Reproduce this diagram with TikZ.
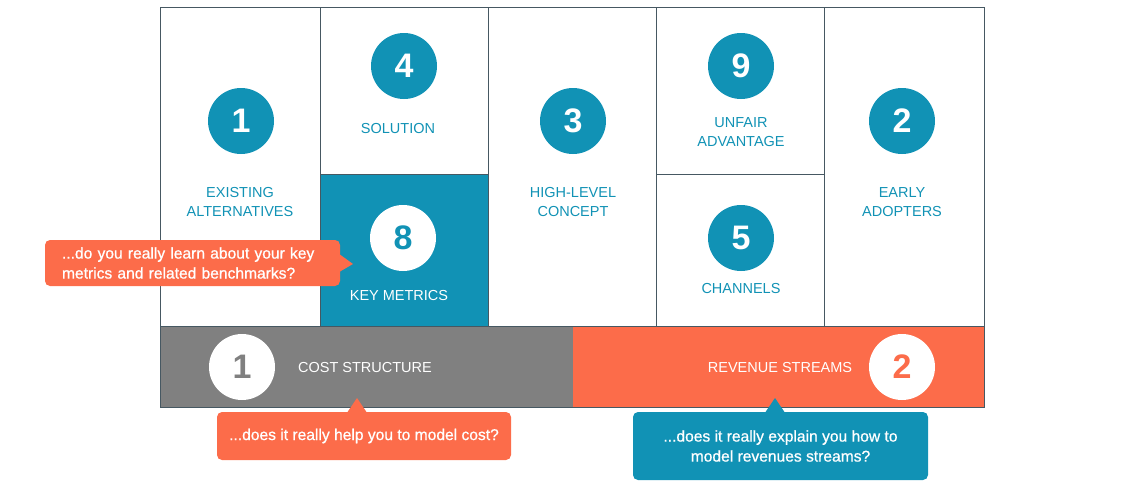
\documentclass[tikz,border=0pt]{standalone}
\usepackage{fontspec}
\setmainfont{Liberation Sans}
\newfontfamily\calloutfont[FakeBold=0.8]{Liberation Sans}
\usetikzlibrary{positioning,calc}

\definecolor{leanblue}{RGB}{17,146,181}
\definecolor{leanorange}{RGB}{252,108,74}
\definecolor{leangray}{RGB}{128,128,128}
\definecolor{gridline}{RGB}{70,88,98}

\tikzset{
  grid/.style={draw=gridline, line width=0.8pt},
  num/.style={circle, fill=leanblue, text=white, minimum size=66pt, inner sep=0pt,
    font=\fontsize{34}{34}\selectfont\bfseries},
  numinv/.style={num, fill=white, text=leanblue},
  lbl/.style={text=leanblue, align=center, inner sep=0pt, font=\fontsize{14.5}{19}\selectfont},
  barlbl/.style={text=white, inner sep=0pt, font=\fontsize{14.5}{19}\selectfont},
  bubble/.style={rounded corners=5pt, text=white, inner sep=0pt,
    font=\calloutfont\fontsize{15.6}{20}\selectfont},
}

\begin{document}
\begin{tikzpicture}[x=1pt,y=-1pt]
\useasboundingbox (0,0) rectangle (1130,493);

% Filled cells
\fill[leanblue] (320,174) rectangle (488,326);
\fill[leangray] (160,326) rectangle (573,407);
\fill[leanorange] (573,326) rectangle (984,407);

% Grid
\draw[grid] (160,7) rectangle (984,407);
\draw[grid] (320,7) -- (320,326);
\draw[grid] (488,7) -- (488,326);
\draw[grid] (656,7) -- (656,326);
\draw[grid] (824,7) -- (824,326);
\draw[grid] (320,174) -- (488,174);
\draw[grid] (656,174) -- (824,174);
\draw[grid] (160,326) -- (984,326);

% Numbers
\node[num] (c1) at (241,121) {1};
\node[num] (c4) at (404,66) {4};
\node[numinv] (c8) at (403,238) {8};
\node[num] (c3) at (573,121) {3};
\node[num] (c9) at (741,66) {9};
\node[num] (c5) at (741,238) {5};
\node[num] (c2) at (902,121) {2};
\node[numinv, text=leangray] (cost) at (242,367) {1};
\node[numinv, text=leanorange] (rev) at (902,367) {2};

% Labels
\node[lbl] (lexist) at (240,202.5) {EXISTING\\ALTERNATIVES};
\node[lbl] (lsol) at (398,129) {SOLUTION};
\node[lbl, text=white] (lkey) at (399,296) {KEY METRICS};
\node[lbl] (lhigh) at (573,202.5) {HIGH-LEVEL\\CONCEPT};
\node[lbl] (lunfair) at (741,132.5) {UNFAIR\\ADVANTAGE};
\node[lbl] (lchan) at (741,289) {CHANNELS};
\node[lbl] (learly) at (902,202.5) {EARLY\\ADOPTERS};
\node[barlbl] (lcost) at (365,368) {COST STRUCTURE};
\node[barlbl] (lrev) at (780,368) {REVENUE STREAMS};

% Callouts
\node[bubble, fill=leanorange, minimum width=295pt, minimum height=46pt,
  text width=261pt, align=left] (qmetrics) at (192.5,263)
  {...do you really learn about your key\\metrics and related benchmarks?};
\coordinate (tipmetrics) at (353,264);
\fill[leanorange] ($(qmetrics.east)+(-1,-9)$) -- (tipmetrics) -- ($(qmetrics.east)+(-1,9)$) -- cycle;

\node[bubble, fill=leanorange, minimum width=294pt, minimum height=48pt,
  align=center] (qcost) at (364,436) {...does it really help you to model cost?};
\coordinate (tipcost) at (357,398);
\fill[leanorange] ($(tipcost |- qcost.north)+(-10,1)$) -- (tipcost) -- ($(tipcost |- qcost.north)+(10,1)$) -- cycle;

\node[bubble, fill=leanblue, minimum width=295pt, minimum height=68pt,
  align=center] (qrev) at (780.5,446)
  {...does it really explain you how to\\model revenues streams?};
\coordinate (tiprev) at (775,398);
\fill[leanblue] ($(tiprev |- qrev.north)+(-10,1)$) -- (tiprev) -- ($(tiprev |- qrev.north)+(10,1)$) -- cycle;
\end{tikzpicture}
\end{document}
